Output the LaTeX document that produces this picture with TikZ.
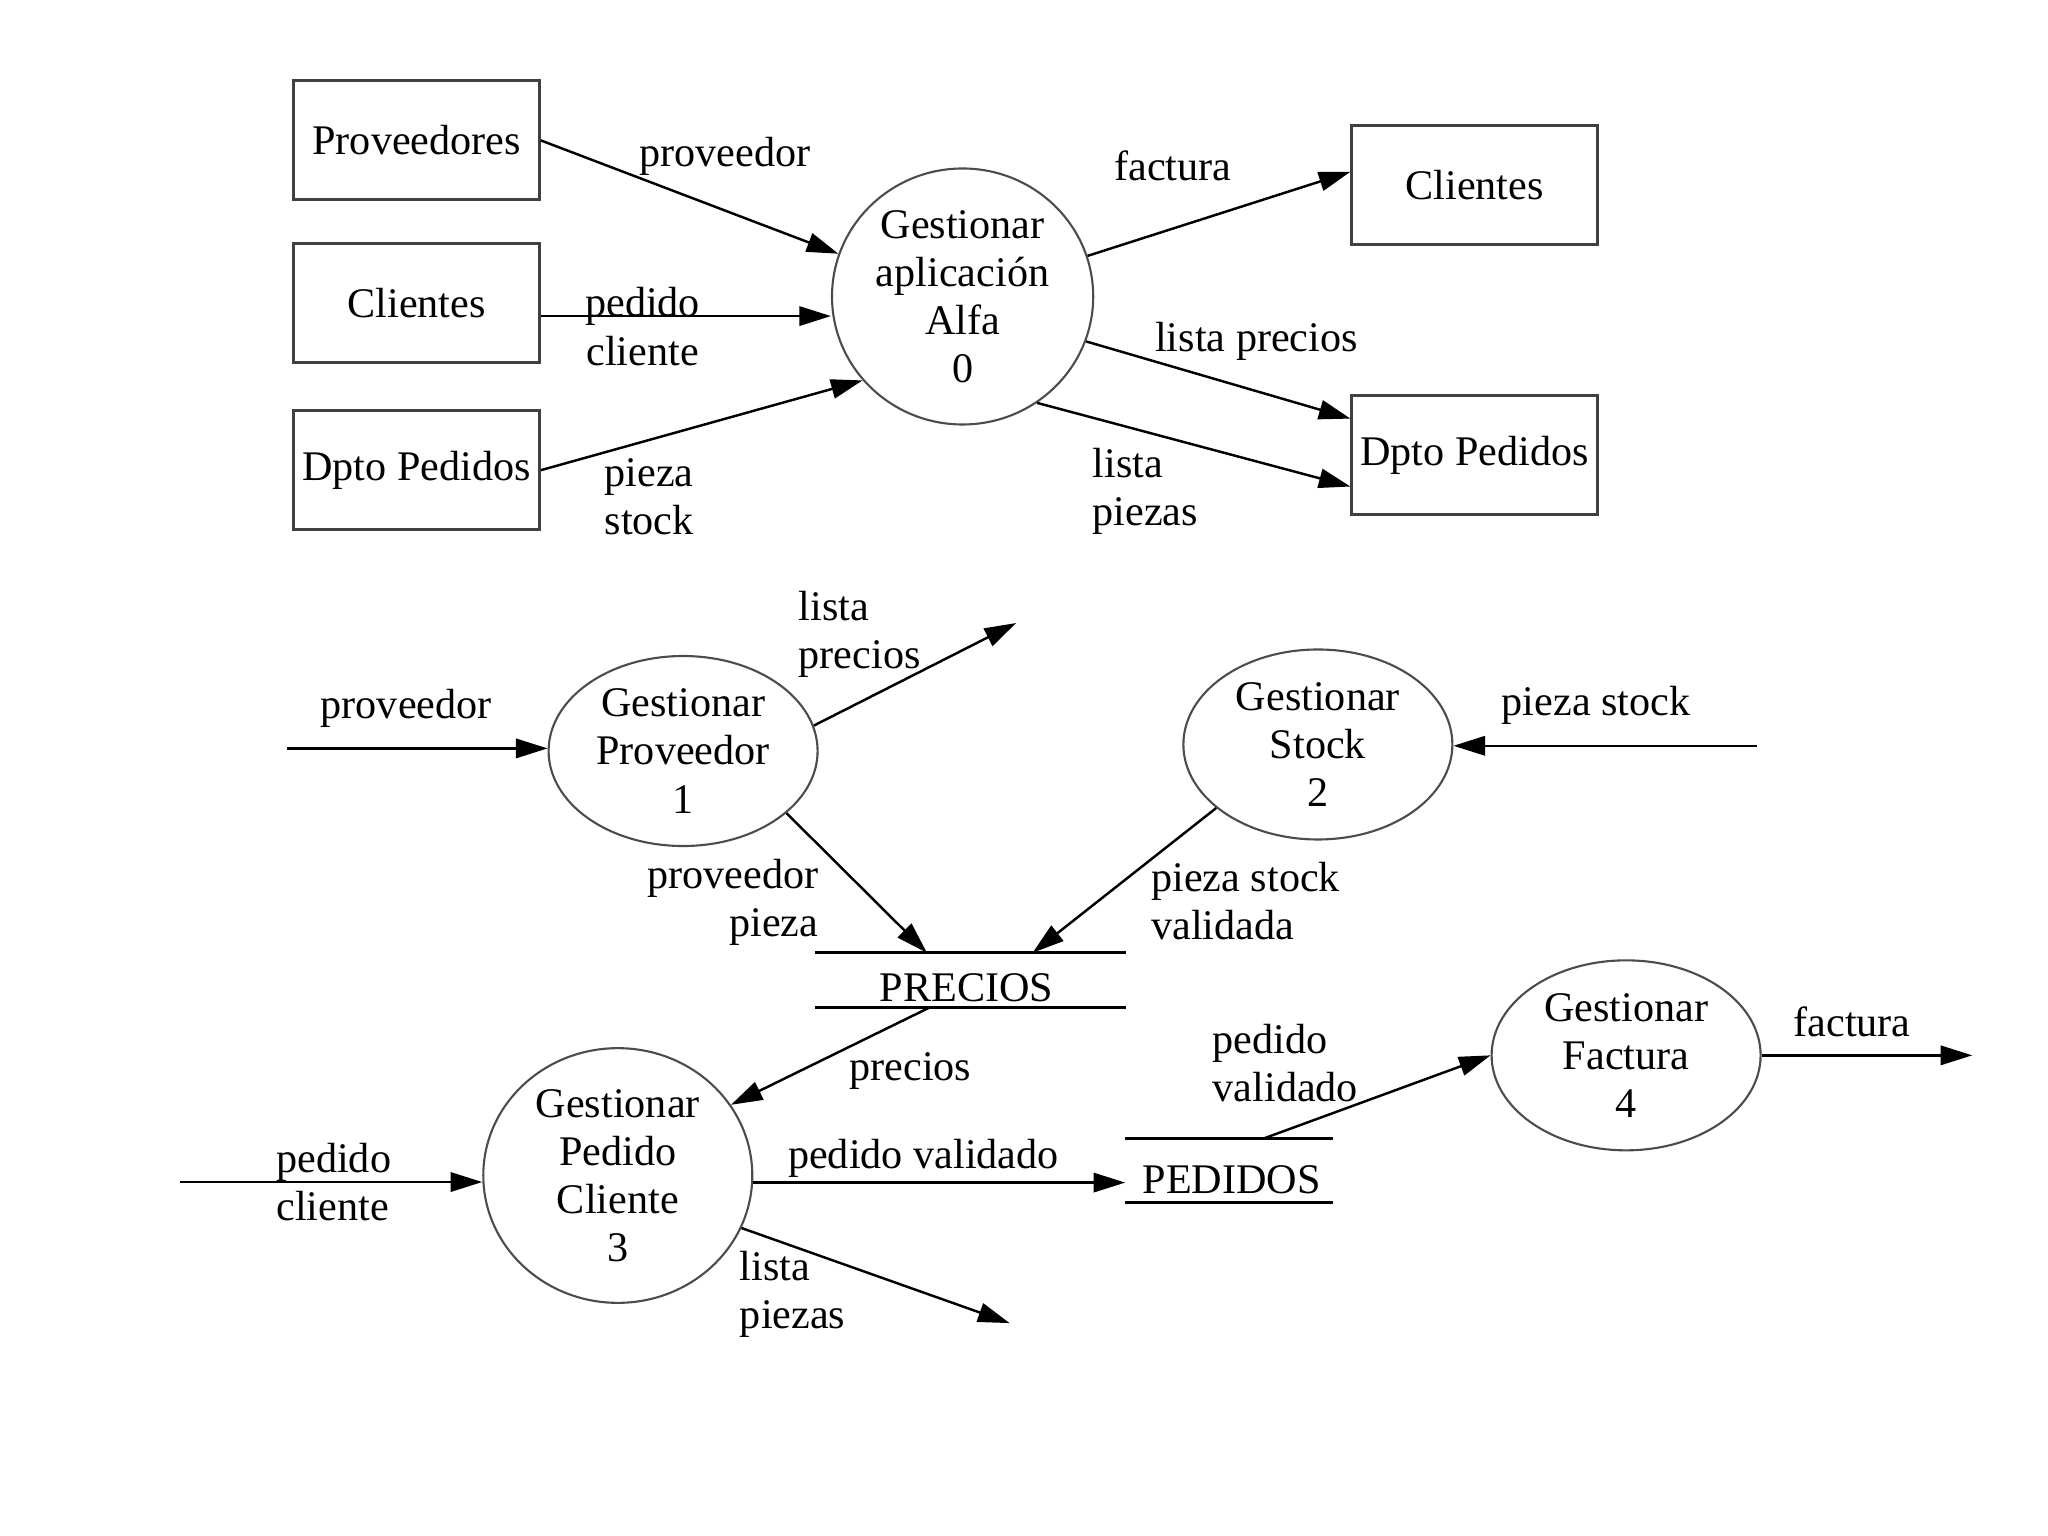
\documentclass[tikz,border=0pt]{standalone}
\usepackage{fontspec}
\setmainfont{Liberation Serif}
\usetikzlibrary{arrows.meta,shapes.geometric,calc}
\begin{document}
\begin{tikzpicture}[x=0.01306cm,y=-0.01306cm,
  font=\fontsize{12}{13.7}\selectfont,
  ext/.style={draw=black!75,line width=0.8pt,minimum width=2.455cm,minimum height=1.19cm,inner sep=0pt},
  proc/.style={draw=black!70,line width=0.6pt,ellipse,inner sep=0pt},
  txt/.style={align=center,inner sep=0pt},
  lbl/.style={align=center,inner sep=0pt},
  lbll/.style={align=left,inner sep=0pt},
  lblr/.style={align=right,inner sep=0pt},
  flow/.style={line width=0.7pt,-{Triangle[length=9pt,width=5.5pt]}},
  storebox/.style={inner sep=0pt},
  storeline/.style={line width=0.9pt}
]
\useasboundingbox (0,0) rectangle (1568,1176);

% ---------- top level ----------
\node[ext] (prov) at (319,107.5) {Proveedores};
\node[ext] (cli1) at (319,232) {Clientes};
\node[ext] (dp1) at (319,360) {Dpto Pedidos};
\node[ext] (cli2) at (1129,141.5) {Clientes};
\node[ext] (dp2) at (1129,348.5) {Dpto Pedidos};

\node[proc,minimum width=2.612cm,minimum height=2.56cm] (p0) at (737,227) {};
\node[txt] (p0t) at (p0) {Gestionar\\aplicación\\Alfa\\0};

\coordinate (c1s) at ($(cli1.east)+(0,10)$);
\draw[flow] (prov.east) -- (p0.161);
\draw[flow] (c1s) -- (c1s -| p0.west);
\draw[flow] (dp1.east) -- (p0.220);
\draw[flow] (p0.18) -- ($(cli2.west)+(0,-10)$);
\draw[flow] (p0.340) -- ($(dp2.west)+(0,-28)$);
\draw[flow] (p0.305) -- ($(dp2.west)+(0,24)$);

\node[lbl] (l1) at (555,120) {proveedor};
\node[lbl] (l2) at (492,250) {pedido\\cliente};
\node[lbl] (l3) at (497,380) {pieza\\stock};
\node[lbl] (l4) at (898,127) {factura};
\node[lbl] (l5) at (962,261) {lista precios};
\node[lbll,anchor=west] (l6) at (836,376) {lista\\piezas};

% ---------- level 1 ----------
\node[proc,minimum width=2.69cm,minimum height=1.90cm] (p1) at (523,575) {};
\node[txt] (p1t) at (p1) {Gestionar\\Proveedor\\1};
\node[proc,minimum width=2.69cm,minimum height=1.90cm] (p2) at (1009,570) {};
\node[txt] (p2t) at (p2) {Gestionar\\Stock\\2};
\node[proc,minimum width=2.69cm,minimum height=2.547cm] (p3) at (473,900) {};
\node[txt] (p3t) at (p3) {Gestionar\\Pedido\\Cliente\\3};
\node[proc,minimum width=2.69cm,minimum height=1.90cm] (p4) at (1245,808) {};
\node[txt] (p4t) at (p4) {Gestionar\\Factura\\4};

\node[storebox,minimum width=3.095cm,minimum height=0.5355cm] (prec) at (743,750.5) {};
\draw[storeline] (prec.north west) -- (prec.north east);
\draw[storeline] (prec.south west) -- (prec.south east);
\node[txt] (prect) at (740,756) {PRECIOS};

\node[storebox,minimum width=2.063cm,minimum height=0.627cm] (pedi) at (941,896) {};
\draw[storeline] (pedi.north west) -- (pedi.north east);
\draw[storeline] (pedi.south west) -- (pedi.south east);
\node[txt] (pedit) at (943,903) {PEDIDOS};

\coordinate (in1) at (220,573);
\coordinate (out1) at (778,477);
\coordinate (in2) at (1345,571);
\coordinate (in3) at (138,905);
\coordinate (out3) at (773,1013);
\coordinate (out4) at (1510,808);

\draw[flow] (in1) -- (in1 -| p1.west);
\draw[flow] (p1.11) -- (out1);
\draw[flow] (in2) -- (in2 -| p2.east);
\draw[flow] (p1.329) -- ($(prec.north west)!0.36!(prec.north east)$);
\draw[flow] (p2.212) -- ($(prec.north west)!0.70!(prec.north east)$);
\draw[flow] ($(prec.south west)!0.367!(prec.south east)$) -- (p3.32);
\draw[flow] (in3) -- (in3 -| p3.west);
\draw[flow] (p3.357) -- (p3.357 -| pedi.west);
\draw[flow] ($(pedi.north west)!0.67!(pedi.north east)$) -- (p4.west);
\draw[flow] (p4.east) -- (out4);
\draw[flow] (p3.337) -- (out3);

\node[lbl] (m1) at (311,542) {proveedor};
\node[lbll,anchor=west] (m2) at (611,486) {lista\\precios};
\node[lbl] (m3) at (1222,540) {pieza stock};
\node[lblr,anchor=east] (m4) at (627,691) {proveedor\\pieza};
\node[lbll,anchor=west] (m5) at (881,690) {pieza stock\\validada};
\node[lbl] (m6) at (697,820) {precios};
\node[lbll,anchor=west] (m7) at (211,905) {pedido\\cliente};
\node[lbl] (m8) at (707,887) {pedido validado};
\node[lbll,anchor=west] (m9) at (928,814) {pedido\\validado};
\node[lbl] (m10) at (1418,782) {factura};
\node[lbll,anchor=west] (m11) at (566,991) {lista\\piezas};
\end{tikzpicture}
\end{document}
